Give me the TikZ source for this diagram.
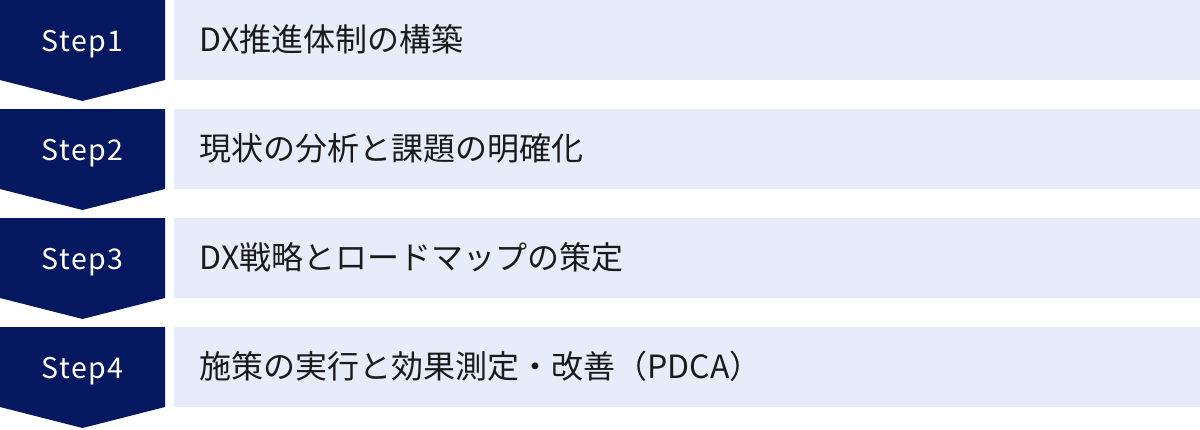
\documentclass[tikz,border=0pt]{standalone}
\usepackage{fontspec}
\setmainfont{Noto Sans CJK JP}
\definecolor{navy}{HTML}{06185F}
\definecolor{lightbox}{HTML}{E6ECF9}
\definecolor{ink}{HTML}{1A1A1A}
\newcommand{\stp}[1]{S\kern1pt t\kern1pt e\kern1pt p\kern1pt #1}
\tikzset{
  chev/.style={fill=navy},
  panel/.style={fill=lightbox},
  steplabel/.style={text=white, font=\fontsize{28.5}{31}\selectfont, anchor=base, inner sep=0pt},
  desclabel/.style={text=ink, font=\fontsize{32}{34}\selectfont, anchor=base west, inner sep=0pt}
}
\begin{document}
\begin{tikzpicture}[x=1pt,y=-1pt]
\useasboundingbox (0,0) rectangle (1200,429);
\foreach \i/\t in {0/{DX推進体制の構築},1/{現状の分析と課題の明確化},2/{DX戦略とロードマップの策定},3/{施策の実行と効果測定・改善（PDCA）}}{
  \pgfmathsetmacro{\top}{109*\i}
  \pgfmathtruncatemacro{\n}{\i+1}
  \fill[chev] (0,\top) -- (165,\top) -- (165,\top+80) -- (82.5,\top+101) -- (0,\top+80) -- cycle;
  \fill[panel] (174,\top) rectangle (1200,\top+79.5);
  \node[steplabel] (step\n) at (82.5,\top+51.5) {\stp{\n}};
  \node[desclabel] (desc\n) at (199.5,\top+51.5) {\t};
}
\end{tikzpicture}
\end{document}
